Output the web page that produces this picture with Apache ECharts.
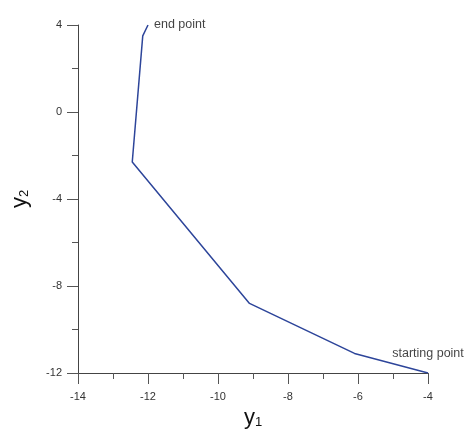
<!DOCTYPE html>
<html><head><meta charset="utf-8">
<script src="https://cdn.jsdelivr.net/npm/echarts@6/dist/echarts.min.js"></script>
<style>html,body{margin:0;padding:0;background:#fff}#c{width:474px;height:436px}</style>
</head><body><div id="c"></div>
<script>
var y1Values = [-4, -6.1, -9.1, -12.45, -12.15, -12.0];
var y2Values = [-12, -11.1, -8.8, -2.3, 3.5, 4];
var pointNames = ['starting point', '', '', '', '', 'end point'];
var xTicks = [-14, -12, -10, -8, -6, -4];
var yTicks = [-12, -8, -4, 0, 4];

var lineData = y1Values.map(function (x, i) { return [x, y2Values[i]]; });
var labelData = [];
y1Values.forEach(function (x, i) {
  if (pointNames[i] === 'end point') {
    labelData.push({ value: [x, y2Values[i]], label: { show: true, formatter: pointNames[i], position: 'right', distance: 6, offset: [0, 1] } });
  } else if (pointNames[i] === 'starting point') {
    labelData.push({ value: [x, y2Values[i]], label: { show: true, formatter: pointNames[i], position: 'top', distance: 13, offset: [-2, 0] } });
  }
});

var subRich = { s: { fontSize: 13, verticalAlign: 'bottom', padding: [10, 0, 0, 0], fontFamily: 'Liberation Sans', color: '#111' } };

var chart = echarts.init(document.getElementById('c'));
chart.setOption({
  animation: false,
  grid: { left: 78, right: 46, top: 25, bottom: 63, containLabel: false, outerBoundsMode: 'none' },
  xAxis: {
    type: 'value', min: xTicks[0], max: xTicks[xTicks.length - 1], interval: 2,
    splitLine: { show: false },
    axisLine: { show: true, onZero: false, lineStyle: { color: '#444', width: 1 } },
    axisTick: { show: true, length: 11, lineStyle: { color: '#555' } },
    minorTick: { show: true, splitNumber: 2, length: 6, lineStyle: { color: '#555' } },
    axisLabel: { color: '#333', fontSize: 11, fontFamily: 'Liberation Sans', margin: 18 },
    name: 'y{s|1}', nameLocation: 'middle', nameGap: 30,
    nameTextStyle: { color: '#111', fontSize: 22, fontFamily: 'Liberation Sans', rich: subRich }
  },
  yAxis: {
    type: 'value', min: yTicks[0], max: yTicks[yTicks.length - 1], interval: 4,
    splitLine: { show: false },
    axisLine: { show: true, onZero: false, lineStyle: { color: '#444', width: 1 } },
    axisTick: { show: true, length: 11, lineStyle: { color: '#555' } },
    minorTick: { show: true, splitNumber: 2, length: 6, lineStyle: { color: '#555' } },
    axisLabel: { color: '#333', fontSize: 11, fontFamily: 'Liberation Sans', margin: 16 },
    name: 'y{s|2}', nameLocation: 'middle', nameGap: 47, nameRotate: 90,
    nameTextStyle: { color: '#111', fontSize: 22, fontFamily: 'Liberation Sans', rich: subRich }
  },
  series: [{
    type: 'line', data: lineData, symbol: 'none', showSymbol: false,
    lineStyle: { color: '#2d459a', width: 1.5 }
  }, {
    type: 'scatter', data: labelData, symbolSize: 0,
    label: { color: '#111', fontSize: 12.5, fontFamily: 'Liberation Sans' },
    labelLayout: { hideOverlap: false }
  }]
});
</script></body></html>
